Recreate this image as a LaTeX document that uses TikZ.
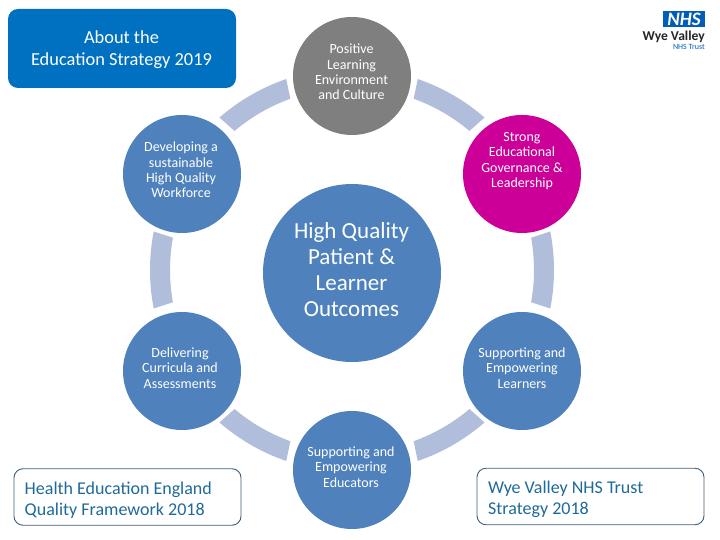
\documentclass[tikz,border=0pt]{standalone}
\usepackage{fontspec}
\setmainfont{Carlito}
\definecolor{blobblue}{HTML}{4F81BD}
\definecolor{band}{HTML}{B0BEDC}
\definecolor{ringgrey}{HTML}{7F7F7F}
\definecolor{mag}{HTML}{CC0099}
\definecolor{topbox}{HTML}{0070C0}
\definecolor{boxedge}{HTML}{3F5F7A}
\definecolor{boxtext}{HTML}{1F6A9A}
\definecolor{nhs}{HTML}{005EB8}
\begin{document}
\begin{tikzpicture}[x=1pt,y=1pt,
  blob/.style={circle,draw=none,minimum size=#1,inner sep=0pt},
  blob/.default=118pt,
  clabel/.style={text=white,align=center,font=\fontsize{14}{15.3}\selectfont,inner sep=0pt},
  frame/.style={draw=boxedge,line width=0.9pt,rounded corners=9pt,fill=white,minimum width=227pt,minimum height=56.5pt,inner sep=0pt},
  ftext/.style={text=boxtext,align=left,font=\fontsize{18}{21}\selectfont,inner sep=0pt,anchor=west}]
\useasboundingbox (0,0) rectangle (720,540);
% ring of bands, centre (352,270) measured from the bottom edge
\foreach \a in {60,120,180,240,300,0}{
  \fill[band] ({352+202*cos(\a-11)},{270+202*sin(\a-11)})
    arc[start angle={\a-11},end angle={\a+11},radius=202]
    -- ({352+182*cos(\a+10.2)},{270+182*sin(\a+10.2)})
    arc[start angle={\a+10.2},end angle={\a-10.2},radius=182] -- cycle;
}
\node[blob,fill=ringgrey] (top) at (352,464) {};
\node[blob,fill=mag] (ur) at (522,366) {};
\node[blob,fill=blobblue] (ul) at (182,366) {};
\node[blob,fill=blobblue] (lr) at (522,169) {};
\node[blob,fill=blobblue] (ll) at (182,169) {};
\node[blob,fill=blobblue] (bot) at (352,70) {};
\node[blob=178pt,fill=blobblue] (mid) at (352,267) {};
\node[clabel] (ttop) at (351.5,468) {Positive\\Learning\\Environment\\and Culture};
\node[clabel] (tur) at (522,379) {Strong\\Educational\\Governance \&\\Leadership};
\node[clabel] (tul) at (181,370) {Developing a\\sustainable\\High Quality\\Workforce};
\node[clabel] (tlr) at (522,172) {Supporting and\\Empowering\\Learners};
\node[clabel] (tll) at (180,172) {Delivering\\Curricula and\\Assessments};
\node[clabel] (tbot) at (351,73) {Supporting and\\Empowering\\Educators};
\node[text=white,align=center,font=\fontsize{23}{26}\selectfont,inner sep=0pt] (tmid) at (351.5,270) {High Quality\\Patient \&\\Learner\\Outcomes};
\node[draw=none,fill=topbox,rounded corners=10pt,minimum width=228pt,minimum height=79pt,inner sep=0pt] (about) at (122,491.5) {};
\node[text=white,align=center,font=\fontsize{18.4}{22}\selectfont,inner sep=0pt] (tabout) at (121.5,490) {About the\\Education Strategy 2019};
\node[frame] (hee) at (127.5,43) {};
\node[ftext] (theE) at (24.5,40) {Health Education England\\Quality Framework 2018};
\node[frame] (wv) at (590.5,43.5) {};
\node[ftext] (twv) at (488,40.5) {Wye Valley NHS Trust\\Strategy 2018};
\node[fill=nhs,minimum width=42pt,minimum height=16pt,inner sep=0pt,text=white,
  font=\fontsize{19}{19}\selectfont\bfseries\itshape] (nhslogo) at (684,521) {NHS};
\node[inner sep=0pt,anchor=east,font=\fontsize{13.6}{13.6}\selectfont\bfseries,text=black!85] (wye) at (705,503) {Wye Valley};
\node[inner sep=0pt,anchor=east,font=\fontsize{8}{8}\selectfont,text=nhs] (trust) at (705,493) {NHS Trust};
\end{tikzpicture}
\end{document}
